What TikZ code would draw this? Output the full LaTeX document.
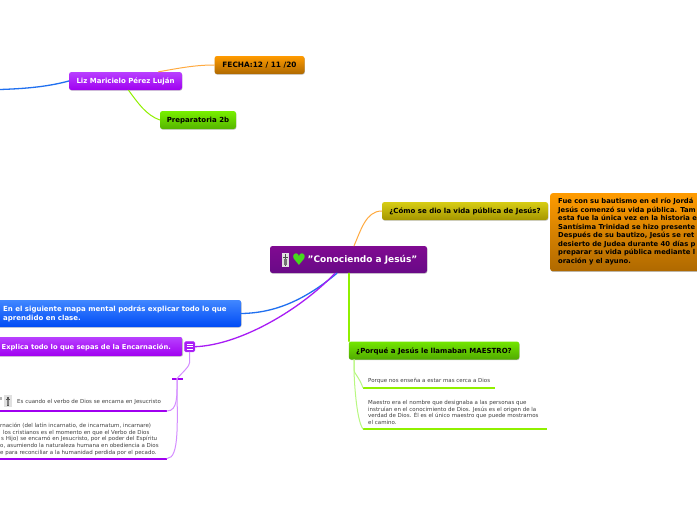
\documentclass[tikz,border=0pt]{standalone}
\usepackage{fontspec}
\setmainfont{DejaVu Sans}
\usetikzlibrary{shadows}
\definecolor{cpurple}{HTML}{A81CF5}
\definecolor{lgreen}{HTML}{B8F880}
\definecolor{titleA}{HTML}{800A91}
\definecolor{titleB}{HTML}{690A87}
\definecolor{heartc}{HTML}{46D71E}
\definecolor{prepA}{HTML}{78F000}
\definecolor{prepB}{HTML}{55B400}
\definecolor{comoA}{HTML}{D7CD14}
\definecolor{comoB}{HTML}{A59600}
\definecolor{fueA}{HTML}{FF9B00}
\definecolor{fueB}{HTML}{AF6900}
\definecolor{porA}{HTML}{73E600}
\definecolor{porB}{HTML}{50AA00}
\definecolor{bluA}{HTML}{4187FF}
\definecolor{bluB}{HTML}{004BF5}
\definecolor{purA}{HTML}{B840FF}
\definecolor{purB}{HTML}{A000F0}
\definecolor{linegreen}{HTML}{90F000}
\definecolor{lineorange}{HTML}{FFAA40}
\definecolor{lineblue}{HTML}{2070F0}
\tikzset{
  topic/.style={rounded corners=2.5pt,font=\bfseries\fontsize{7}{9}\selectfont,align=left,inner sep=0pt,
     drop shadow={shadow xshift=0.4pt,shadow yshift=-0.7pt,opacity=.25,fill=black}},
  oneline/.style={text height=5pt,text depth=0pt},
  whitetopic/.style={topic,text=white},
  darktopic/.style={topic,text=black},
  conn/.style={line width=1pt,line cap=round},
  mainconn/.style={line width=1.3pt,line cap=round},
  body/.style={font=\fontsize{5.5}{6.7}\selectfont,text=black!75,align=left,inner sep=0pt},
  under/.style={line width=2pt},
}
\begin{document}
\begin{tikzpicture}[x=1pt,y=-1pt]
\useasboundingbox (0,0) rectangle (697,520);
\fill[white] (0,0) rectangle (697,520);

% main topics
\node[whitetopic,top color=titleA,bottom color=titleB,minimum width=157pt,minimum height=27pt] (title) at (348.5,259.5) {};
\node[inner sep=0pt,anchor=west,text=white,text height=6.5pt,text depth=0pt,font=\bfseries\fontsize{9}{10}\selectfont] (titletext) at (307.5,259.5) {"Conociendo a Jesús"};
% cross icon
\fill[black!12] (282,252.5) rectangle (289,266.5);
\fill[black!70] (285,254) rectangle (286.2,265.5);
\fill[black!70] (283.3,256.5) rectangle (287.9,258);
\fill[black!55] (284.3,259) rectangle (287,265);
% heart icon
\node[inner sep=0pt,text=heartc,font=\fontsize{16}{16}\selectfont] (heart) at (299,259.5) {♥};

\node[whitetopic,oneline,top color=purA,bottom color=purB,minimum width=113pt,minimum height=18pt] (liz) at (125.5,81) {Liz Maricielo Pérez Luján};
\node[darktopic,oneline,top color=fueA,bottom color=fueB,minimum width=90pt,minimum height=18pt,font=\bfseries\fontsize{7.35}{9}\selectfont] (fecha) at (259.5,65) {FECHA:12 / 11 /20};
\node[darktopic,oneline,top color=prepA,bottom color=prepB,minimum width=76pt,minimum height=18pt] (prepa) at (198,120) {Preparatoria 2b};
\node[darktopic,oneline,top color=comoA,bottom color=comoB,minimum width=166pt,minimum height=18pt] (como) at (465,211) {¿Cómo se dio la vida pública de Jesús?};
\node[darktopic,anchor=north west,top color=fueA,bottom color=fueB,minimum width=170pt,minimum height=78pt] (fue) at (550,193) {};
\node[inner sep=0pt,anchor=north west,align=left,text=black,font=\bfseries\fontsize{6.8}{8.5}\selectfont] (fuetext) at (558,198)
  {Fue con su bautismo en el río Jordá\\Jesús comenzó su vida pública. Tam\\esta fue la única vez en la historia e\\Santísima Trinidad se hizo presente\\Después de su bautizo, Jesús se ret\\desierto de Judea durante 40 días p\\preparar su vida pública mediante l\\oración y el ayuno.};
\node[darktopic,oneline,top color=porA,bottom color=porB,minimum width=170.5pt,minimum height=18pt] (porque) at (434,350.5) {¿Porqué a Jesús le llamaban MAESTRO?};
\node[whitetopic,anchor=west,top color=bluA,bottom color=bluB,minimum width=251pt,minimum height=27pt] (blue) at (-10,313.5) {};
\node[inner sep=0pt,anchor=west,align=left,text=white,font=\bfseries\fontsize{7}{9.3}\selectfont] (bluetext) at (3,314)
  {En el siguiente mapa mental podrás explicar todo lo que\\aprendido en clase.};
\node[whitetopic,anchor=west,top color=purA,bottom color=purB,minimum width=192.5pt,minimum height=19pt] (explica) at (-10,346.5) {};
\node[inner sep=0pt,anchor=west,text=white,text height=5pt,text depth=0pt,font=\bfseries\fontsize{6.75}{9}\selectfont] (explicatext) at (1.5,347)
  {Explica todo lo que sepas de la Encarnación.};
% menu icon
\node[rounded corners=1.5pt,fill=cpurple,draw=purA,line width=.4pt,minimum size=10.5pt,inner sep=0pt] (menu) at (189.7,346.7) {};
\foreach \yy in {-2.4,0,2.4} \draw[white,line width=.7pt] ([xshift=-3pt,yshift=\yy pt]menu.center) -- ([xshift=3pt,yshift=\yy pt]menu.center);

% sub topics
\coordinate (barl) at (172,378.5);
\coordinate (barr) at (183,378.5);
\coordinate (barm) at (177,378.5);
\draw[under,purB] (barl) -- (barr);
\node[body,anchor=west] (es) at (17,402) {Es cuando el verbo de Dios se encarna en Jesucristo};
\coordinate (u1r) at (167,411);
\coordinate (u1l) at (0,411);
\draw[under,purB] (u1l) -- (u1r);
\fill[black!12] (4,395) rectangle (12,407);
\fill[black!65] (7.4,396.5) rectangle (8.6,406);
\fill[black!65] (5.6,398.5) rectangle (10.4,400);
\fill[black!50] (6.6,400) rectangle (9.4,405);
\fill[black!30] (0,396.5) rectangle (2,400);
\node[body,anchor=north west] (enct) at (0,422.8)
  {rnación (del latín incarnatio, de incarnatum, incarnare)\\\hspace{3pt}los cristianos es el momento en que el Verbo de Dios\\\hspace{1pt}s Hijo) se encarnó en Jesucristo, por el poder del Espíritu\\o, asumiendo la naturaleza humana en obediencia a Dios\\e para reconciliar a la humanidad perdida por el pecado.};
\coordinate (u2r) at (167,458.5);
\coordinate (u2l) at (0,458.5);
\draw[under,purB] (u2l) -- (u2r);

\node[body,anchor=west] (p1) at (368,381) {Porque nos enseña a estar mas cerca a Dios};
\coordinate (g1l) at (363,387.7); \coordinate (g1r) at (495,387.7);
\draw[under,linegreen] (g1l) -- (g1r);
\node[body,anchor=north west] (p2) at (368,400)
  {Maestro era el nombre que designaba a las personas que\\instruían en el conocimiento de Dios. Jesús es el origen de la\\verdad de Dios. Él es el único maestro que puede mostrarnos\\el camino.};
\coordinate (g2l) at (363,429); \coordinate (g2r) at (547,429);
\draw[under,linegreen] (g2l) -- (g2r);

% connectors
\coordinate (offl) at (0,89.5);
\draw[mainconn,lineblue] (liz.west) .. controls (45,87.5) and (20,88.8) .. (offl);
\draw[conn,lineorange] ([xshift=33pt]liz.north) .. controls (180,68) and (195,65) .. (fecha.west);
\draw[conn,linegreen] ([xshift=3pt]liz.south) .. controls (138,103) and (146,115) .. (prepa.west);
\draw[conn,lineorange] ([xshift=5.5pt]title.north) .. controls (361,230) and (366,211) .. (como.west);
\draw[mainconn,linegreen] ([xshift=.5pt]title.south) -- ([xshift=-85pt]porque.north);
\draw[mainconn,lineblue] ([xshift=-11.5pt]title.south) .. controls (305,300) and (275,313) .. (blue.east);
\draw[mainconn,cpurple] ([xshift=-13.5pt]title.south) .. controls (300,310) and (240,345) .. (menu.east);
\draw[conn,purA!60!white] (menu.south) -- ++(0,10) .. controls +(0,4) and (183,372) .. (barm);
\draw[conn,purA!60!white] (barm) .. controls (177,395) and (178,411) .. (u1r);
\draw[conn,purA!60!white] (barm) .. controls (177,420) and (180,458.5) .. (u2r);
\draw[conn,lgreen] ([xshift=-80pt]porque.south) -- ++(0,10) .. controls +(0,4) and (358,375) .. (g1l);
\draw[conn,lgreen] ([xshift=-80pt]porque.south) -- ++(0,10) .. controls +(0,6) and (356,420) .. (g2l);
\end{tikzpicture}
\end{document}
